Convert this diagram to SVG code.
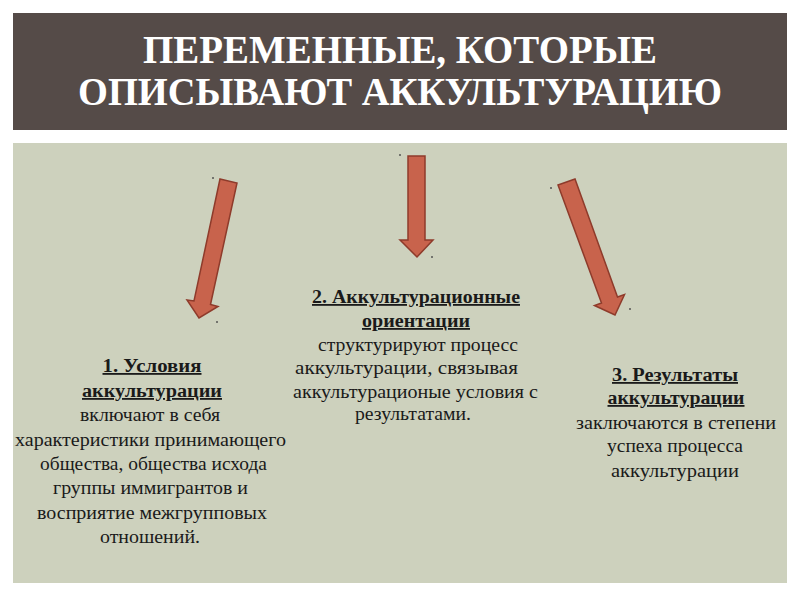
<svg xmlns="http://www.w3.org/2000/svg" width="800" height="600" viewBox="0 0 800 600">
<style>
.t{font-family:"Liberation Serif","Times New Roman",serif;font-size:18px;fill:#1a1a1a;text-anchor:middle}
.b{font-weight:bold;text-decoration:underline}
.title{font-family:"Liberation Serif","Times New Roman",serif;font-weight:bold;font-size:41px;fill:#ffffff;text-anchor:middle}
.arrow{fill:#c8634c;stroke:#8e3b2b;stroke-width:1.5;stroke-linejoin:miter}
.dot{fill:#555}
</style>
<rect x="0" y="0" width="800" height="600" fill="#ffffff"/>
<g id="header">
<rect x="13" y="13" width="774" height="117" fill="#554b48"/>
<text class="title" x="400" y="63" textLength="514" lengthAdjust="spacingAndGlyphs">ПЕРЕМЕННЫЕ, КОТОРЫЕ</text>
<text class="title" x="400" y="105" textLength="644" lengthAdjust="spacingAndGlyphs">ОПИСЫВАЮТ АККУЛЬТУРАЦИЮ</text>
</g>
<rect id="panel" x="13" y="143" width="774" height="440" fill="#cdd1bd"/>
<g id="connectors">
<polygon class="arrow" points="220,179 237,183 210.5,304.5 218,306.5 199,318 187,300 194,301"/>
<polygon class="arrow" points="408,156 425,156 425,240 433,240 417,257 400,240 408,240"/>
<polygon class="arrow" points="558,185 575,179 617.5,297 624.5,294.5 615,315 594.5,305.5 601.5,303"/>
<circle class="dot" cx="213" cy="178" r="1"/>
<circle class="dot" cx="400" cy="155" r="1"/>
<circle class="dot" cx="432" cy="257" r="1"/>
<circle class="dot" cx="217" cy="322" r="1"/>
<circle class="dot" cx="551" cy="188" r="1"/>
<circle class="dot" cx="630" cy="309" r="1"/>
</g>
<g id="node1">
<text class="t b" x="152" y="372" textLength="99" lengthAdjust="spacingAndGlyphs">1. Условия </text>
<text class="t b" x="152" y="397" textLength="140" lengthAdjust="spacingAndGlyphs">аккультурации</text>
<text class="t" x="150" y="421" textLength="140" lengthAdjust="spacingAndGlyphs">включают в себя</text>
<text class="t" x="150.5" y="446" textLength="271" lengthAdjust="spacingAndGlyphs">характеристики принимающего</text>
<text class="t" x="153.5" y="470" textLength="227" lengthAdjust="spacingAndGlyphs">общества, общества исхода</text>
<text class="t" x="150.5" y="494" textLength="195" lengthAdjust="spacingAndGlyphs">группы иммигрантов и</text>
<text class="t" x="152" y="519" textLength="230" lengthAdjust="spacingAndGlyphs">восприятие межгрупповых</text>
<text class="t" x="150" y="543" textLength="100" lengthAdjust="spacingAndGlyphs">отношений.</text>
</g>
<g id="node2">
<text class="t b" x="416" y="303" textLength="208" lengthAdjust="spacingAndGlyphs">2. Аккультурационные</text>
<text class="t b" x="416" y="327" textLength="108" lengthAdjust="spacingAndGlyphs">ориентации</text>
<text class="t" x="418" y="351" textLength="200" lengthAdjust="spacingAndGlyphs">структурируют процесс</text>
<text class="t" x="406.5" y="374" textLength="223" lengthAdjust="spacingAndGlyphs">аккультурации, связывая</text>
<text class="t" x="415.5" y="398" textLength="245" lengthAdjust="spacingAndGlyphs">аккультурационые условия с</text>
<text class="t" x="413" y="420" textLength="116" lengthAdjust="spacingAndGlyphs">результатами.</text>
</g>
<g id="node3">
<text class="t b" x="675" y="381" textLength="126" lengthAdjust="spacingAndGlyphs">3. Результаты</text>
<text class="t b" x="676" y="404" textLength="137" lengthAdjust="spacingAndGlyphs">аккультурации</text>
<text class="t" x="676" y="429" textLength="200" lengthAdjust="spacingAndGlyphs">заключаются в степени</text>
<text class="t" x="675" y="452" textLength="136" lengthAdjust="spacingAndGlyphs">успеха процесса</text>
<text class="t" x="675" y="477" textLength="128" lengthAdjust="spacingAndGlyphs">аккультурации</text>
</g>
</svg>
